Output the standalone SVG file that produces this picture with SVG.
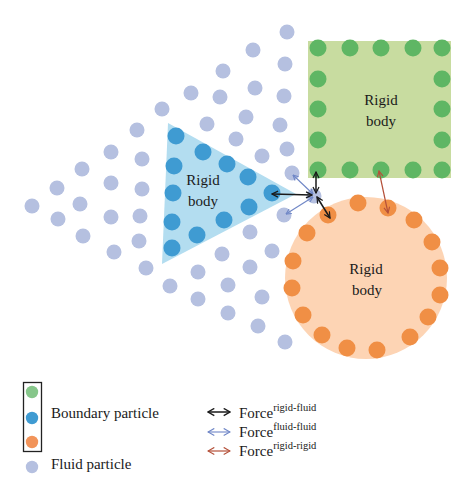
<svg xmlns="http://www.w3.org/2000/svg" width="474" height="498" viewBox="0 0 474 498">
<defs>
<style>
.fl{fill:#b5c0e0}
.bb{fill:#3f9bd2}
.bg{fill:#5fb664}
.bo{fill:#f08f45}
.t{font-family:"Liberation Serif","Times New Roman",serif;font-size:15px;fill:#1a1a1a}
.c{text-anchor:middle}
.sup{font-size:10.5px}
.ak{stroke:#1a1a1a;stroke-width:1.5;fill:none}
.ab{stroke:#6f86c6;stroke-width:1.1;fill:none}
.ar{stroke:#b5513a;stroke-width:1.2;fill:none}
</style>
<marker id="hk" viewBox="0 0 10 10" refX="9" refY="5" markerWidth="5" markerHeight="5" orient="auto-start-reverse" markerUnits="strokeWidth"><path d="M1,1 L9,5 L1,9" fill="none" stroke="#1a1a1a" stroke-width="1.6"/></marker>
<marker id="hb" viewBox="0 0 10 10" refX="9" refY="5" markerWidth="6" markerHeight="6" orient="auto-start-reverse" markerUnits="strokeWidth"><path d="M1,1 L9,5 L1,9" fill="none" stroke="#6f86c6" stroke-width="1.6"/></marker>
<marker id="hr" viewBox="0 0 10 10" refX="9" refY="5" markerWidth="6" markerHeight="6" orient="auto-start-reverse" markerUnits="strokeWidth"><path d="M1,1 L9,5 L1,9" fill="none" stroke="#b5513a" stroke-width="1.6"/></marker>
<marker id="lk" viewBox="0 0 10 10" refX="9" refY="5" markerWidth="9" markerHeight="9" orient="auto-start-reverse" markerUnits="userSpaceOnUse"><path d="M2,1 L9,5 L2,9" fill="none" stroke="#1a1a1a" stroke-width="1.5"/></marker>
<marker id="lb" viewBox="0 0 10 10" refX="9" refY="5" markerWidth="9" markerHeight="9" orient="auto-start-reverse" markerUnits="userSpaceOnUse"><path d="M2,1 L9,5 L2,9" fill="none" stroke="#6f86c6" stroke-width="1.3"/></marker>
<marker id="lr" viewBox="0 0 10 10" refX="9" refY="5" markerWidth="9" markerHeight="9" orient="auto-start-reverse" markerUnits="userSpaceOnUse"><path d="M2,1 L9,5 L2,9" fill="none" stroke="#b5513a" stroke-width="1.3"/></marker>
</defs>
<rect width="474" height="498" fill="#ffffff"/>

<g id="fluid-particles">
<circle class="fl" cx="287" cy="32" r="7.5"/>
<circle class="fl" cx="253" cy="50" r="7.5"/>
<circle class="fl" cx="285" cy="64" r="7.5"/>
<circle class="fl" cx="223" cy="71" r="7.5"/>
<circle class="fl" cx="255" cy="88" r="7.5"/>
<circle class="fl" cx="284" cy="96" r="7.5"/>
<circle class="fl" cx="191" cy="93" r="7.5"/>
<circle class="fl" cx="220" cy="97" r="7.5"/>
<circle class="fl" cx="246" cy="117" r="7.5"/>
<circle class="fl" cx="280" cy="125" r="7.5"/>
<circle class="fl" cx="162" cy="109" r="7.5"/>
<circle class="fl" cx="207" cy="124" r="7.5"/>
<circle class="fl" cx="236" cy="139" r="7.5"/>
<circle class="fl" cx="287" cy="149" r="7.5"/>
<circle class="fl" cx="137" cy="130" r="7.5"/>
<circle class="fl" cx="262" cy="156" r="7.5"/>
<circle class="fl" cx="292" cy="173" r="7.5"/>
<circle class="fl" cx="111" cy="152" r="7.5"/>
<circle class="fl" cx="142" cy="159" r="7.5"/>
<circle class="fl" cx="82" cy="169" r="7.5"/>
<circle class="fl" cx="111" cy="183" r="7.5"/>
<circle class="fl" cx="142" cy="189" r="7.5"/>
<circle class="fl" cx="57" cy="188" r="7.5"/>
<circle class="fl" cx="80" cy="204" r="7.5"/>
<circle class="fl" cx="32" cy="206" r="7.5"/>
<circle class="fl" cx="58" cy="219" r="7.5"/>
<circle class="fl" cx="111" cy="217" r="7.5"/>
<circle class="fl" cx="140" cy="216" r="7.5"/>
<circle class="fl" cx="83" cy="236" r="7.5"/>
<circle class="fl" cx="139" cy="241" r="7.5"/>
<circle class="fl" cx="114" cy="252" r="7.5"/>
<circle class="fl" cx="146" cy="268" r="7.5"/>
<circle class="fl" cx="284" cy="215" r="7.5"/>
<circle class="fl" cx="250" cy="232" r="7.5"/>
<circle class="fl" cx="222" cy="254" r="7.5"/>
<circle class="fl" cx="272" cy="251" r="7.5"/>
<circle class="fl" cx="170" cy="286" r="7.5"/>
<circle class="fl" cx="198" cy="272" r="7.5"/>
<circle class="fl" cx="250" cy="267" r="7.5"/>
<circle class="fl" cx="198" cy="299" r="7.5"/>
<circle class="fl" cx="228" cy="285" r="7.5"/>
<circle class="fl" cx="262" cy="297" r="7.5"/>
<circle class="fl" cx="228" cy="313" r="7.5"/>
<circle class="fl" cx="258" cy="326" r="7.5"/>
<circle class="fl" cx="285" cy="342" r="7.5"/>
<circle class="fl" cx="314" cy="196" r="7.5"/>
</g>

<g id="triangle-body">
<polygon points="168,123 296,194 162,264" fill="#b3ddf0"/>
<circle class="bb" cx="176" cy="136" r="8.5"/>
<circle class="bb" cx="203" cy="152" r="8.5"/>
<circle class="bb" cx="227" cy="164" r="8.5"/>
<circle class="bb" cx="248" cy="177" r="8.5"/>
<circle class="bb" cx="272" cy="193" r="8.5"/>
<circle class="bb" cx="249" cy="207" r="8.5"/>
<circle class="bb" cx="224" cy="220" r="8.5"/>
<circle class="bb" cx="197" cy="235" r="8.5"/>
<circle class="bb" cx="172" cy="248" r="8.5"/>
<circle class="bb" cx="172" cy="222" r="8.5"/>
<circle class="bb" cx="173" cy="193" r="8.5"/>
<circle class="bb" cx="174" cy="166" r="8.5"/>
<text class="t c" x="203" y="185">Rigid</text>
<text class="t c" x="203" y="206">body</text>
</g>

<g id="square-body">
<rect x="308" y="41" width="143" height="137" fill="#c8dca0"/>
<circle class="bg" cx="318" cy="48" r="8.5"/>
<circle class="bg" cx="350" cy="48" r="8.5"/>
<circle class="bg" cx="381" cy="48" r="8.5"/>
<circle class="bg" cx="413" cy="48" r="8.5"/>
<circle class="bg" cx="442" cy="48" r="8.5"/>
<circle class="bg" cx="318" cy="79" r="8.5"/>
<circle class="bg" cx="318" cy="109" r="8.5"/>
<circle class="bg" cx="318" cy="140" r="8.5"/>
<circle class="bg" cx="442" cy="79" r="8.5"/>
<circle class="bg" cx="442" cy="109" r="8.5"/>
<circle class="bg" cx="442" cy="140" r="8.5"/>
<circle class="bg" cx="318" cy="170" r="8.5"/>
<circle class="bg" cx="350" cy="170" r="8.5"/>
<circle class="bg" cx="381" cy="170" r="8.5"/>
<circle class="bg" cx="413" cy="170" r="8.5"/>
<circle class="bg" cx="442" cy="170" r="8.5"/>
<text class="t c" x="381" y="105">Rigid</text>
<text class="t c" x="381" y="126">body</text>
</g>

<g id="circle-body">
<circle cx="366" cy="278" r="81" fill="#fdd4b4"/>
<circle class="bo" cx="358" cy="203" r="8.5"/>
<circle class="bo" cx="388" cy="208" r="8.5"/>
<circle class="bo" cx="328" cy="215" r="8.5"/>
<circle class="bo" cx="414" cy="220" r="8.5"/>
<circle class="bo" cx="307" cy="233" r="8.5"/>
<circle class="bo" cx="432" cy="242" r="8.5"/>
<circle class="bo" cx="293" cy="261" r="8.5"/>
<circle class="bo" cx="440" cy="268" r="8.5"/>
<circle class="bo" cx="292" cy="288" r="8.5"/>
<circle class="bo" cx="440" cy="295" r="8.5"/>
<circle class="bo" cx="303" cy="315" r="8.5"/>
<circle class="bo" cx="428" cy="317" r="8.5"/>
<circle class="bo" cx="322" cy="335" r="8.5"/>
<circle class="bo" cx="410" cy="337" r="8.5"/>
<circle class="bo" cx="347" cy="348" r="8.5"/>
<circle class="bo" cx="377" cy="350" r="8.5"/>
<text class="t c" x="366" y="274">Rigid</text>
<text class="t c" x="367" y="295">body</text>
</g>

<g id="connectors">
<line class="ab" x1="313" y1="194" x2="293" y2="175" marker-start="url(#hb)" marker-end="url(#hb)"/>
<line class="ab" x1="313" y1="197" x2="286" y2="214" marker-start="url(#hb)" marker-end="url(#hb)"/>
<line class="ak" x1="312" y1="195" x2="272" y2="194" marker-start="url(#hk)" marker-end="url(#hk)"/>
<line class="ak" x1="316" y1="193" x2="316" y2="172" marker-start="url(#hk)" marker-end="url(#hk)"/>
<line class="ak" x1="317" y1="197" x2="330" y2="218" marker-start="url(#hk)" marker-end="url(#hk)"/>
<line class="ar" x1="379" y1="171" x2="388" y2="213" marker-start="url(#hr)" marker-end="url(#hr)"/>
</g>

<g id="legend-boundary">
<rect x="23.5" y="382.5" width="18" height="69" fill="none" stroke="#222" stroke-width="1.3"/>
<circle cx="32" cy="392" r="6.2" fill="#86c68a"/>
<circle cx="32" cy="418" r="6.2" fill="#3f9bd2"/>
<circle cx="32" cy="442" r="6.2" fill="#f2945a"/>
<text class="t" x="51" y="418">Boundary particle</text>
</g>
<g id="legend-fluid">
<circle cx="32" cy="467" r="6.2" fill="#b5c0e0"/>
<text class="t" x="51" y="469">Fluid particle</text>
</g>

<g id="legend-forces">
<line class="ak" x1="208" y1="412" x2="230" y2="412" stroke-width="1.3" marker-start="url(#lk)" marker-end="url(#lk)"/>
<line class="ab" x1="208" y1="432" x2="230" y2="432" marker-start="url(#lb)" marker-end="url(#lb)"/>
<line class="ar" x1="208" y1="451" x2="230" y2="451" marker-start="url(#lr)" marker-end="url(#lr)"/>
<text class="t" x="239" y="418">Force<tspan class="sup" dy="-7">rigid-fluid</tspan></text>
<text class="t" x="239" y="437">Force<tspan class="sup" dy="-7">fluid-fluid</tspan></text>
<text class="t" x="239" y="456">Force<tspan class="sup" dy="-7">rigid-rigid</tspan></text>
</g>
</svg>
